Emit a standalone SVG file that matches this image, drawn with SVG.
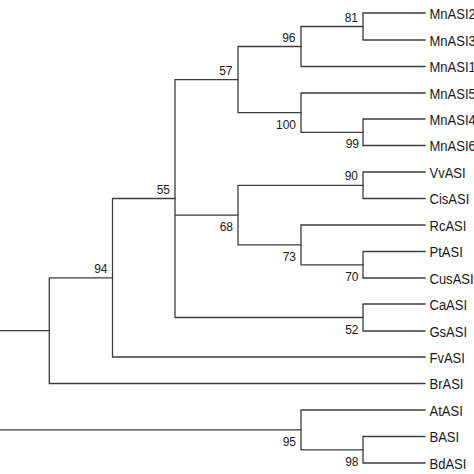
<svg xmlns="http://www.w3.org/2000/svg" width="474" height="474" viewBox="0 0 474 474">
<style>
.e{fill:none;stroke:#3c3c3c;stroke-width:1.3;stroke-linecap:square}
.lf{font-family:"Liberation Sans",Arial,sans-serif;font-size:15.5px;fill:#1a1a1a}
.bs{font-family:"Liberation Sans",Arial,sans-serif;font-size:12px;fill:#1a1a1a;text-anchor:end}
</style>
<rect width="474" height="474" fill="#ffffff"/>
<g id="connectors">
<path class="e" d="M363,13V40M363,13H425M363,40H425"/>
<path class="e" d="M301,26.5V66.5M301,26.5H363M301,66.5H425"/>
<path class="e" d="M363,119V145.5M363,119H425M363,145.5H425"/>
<path class="e" d="M301,93V132.3M301,93H425M301,132.3H363"/>
<path class="e" d="M238,46.5V112.6M238,46.5H301M238,112.6H301"/>
<path class="e" d="M363,172V198.5M363,172H425M363,198.5H425"/>
<path class="e" d="M363,251.5V278M363,251.5H425M363,278H425"/>
<path class="e" d="M301,225V264.8M301,225H425M301,264.8H363"/>
<path class="e" d="M238,185.3V244.9M238,185.3H363M238,244.9H301"/>
<path class="e" d="M363,304V331M363,304H425M363,331H425"/>
<path class="e" d="M175,79.6V317.5M175,79.6H238M175,215.1H238M175,317.5H363"/>
<path class="e" d="M112.5,198.5V357M112.5,198.5H175M112.5,357H425"/>
<path class="e" d="M49.3,277.8V383.5M49.3,277.8H112.5M49.3,383.5H425M0,330.6H49.3"/>
<path class="e" d="M363,436.5V463M363,436.5H425M363,463H425"/>
<path class="e" d="M301,410V449.8M301,410H425M301,449.8H363M0,429.9H301"/>
</g>
<g id="bootstrap">
<text class="bs" x="358" y="21.5">81</text>
<text class="bs" x="295.5" y="41.5">96</text>
<text class="bs" x="232.5" y="74.6">57</text>
<text class="bs" x="296" y="128.6">100</text>
<text class="bs" x="359" y="148">99</text>
<text class="bs" x="170" y="193.5">55</text>
<text class="bs" x="358" y="180">90</text>
<text class="bs" x="233" y="231">68</text>
<text class="bs" x="296" y="261">73</text>
<text class="bs" x="358.5" y="281">70</text>
<text class="bs" x="107.5" y="272.5">94</text>
<text class="bs" x="358.5" y="333.5">52</text>
<text class="bs" x="296" y="446">95</text>
<text class="bs" x="358.5" y="466">98</text>
</g>
<g id="leaf-MnASI2"><text class="lf" transform="translate(429.5,18.5) scale(0.84,1)">MnASI2</text></g>
<g id="leaf-MnASI3"><text class="lf" transform="translate(429.5,45.5) scale(0.84,1)">MnASI3</text></g>
<g id="leaf-MnASI1"><text class="lf" transform="translate(429.5,72) scale(0.84,1)">MnASI1</text></g>
<g id="leaf-MnASI5"><text class="lf" transform="translate(429.5,98.5) scale(0.84,1)">MnASI5</text></g>
<g id="leaf-MnASI4"><text class="lf" transform="translate(429.5,124.5) scale(0.84,1)">MnASI4</text></g>
<g id="leaf-MnASI6"><text class="lf" transform="translate(429.5,151) scale(0.84,1)">MnASI6</text></g>
<g id="leaf-VvASI"><text class="lf" transform="translate(429.5,177.5) scale(0.84,1)">VvASI</text></g>
<g id="leaf-CisASI"><text class="lf" transform="translate(429.5,204) scale(0.84,1)">CisASI</text></g>
<g id="leaf-RcASI"><text class="lf" transform="translate(429.5,230.5) scale(0.84,1)">RcASI</text></g>
<g id="leaf-PtASI"><text class="lf" transform="translate(429.5,257) scale(0.84,1)">PtASI</text></g>
<g id="leaf-CusASI"><text class="lf" transform="translate(429.5,283.5) scale(0.84,1)">CusASI</text></g>
<g id="leaf-CaASI"><text class="lf" transform="translate(429.5,309.5) scale(0.84,1)">CaASI</text></g>
<g id="leaf-GsASI"><text class="lf" transform="translate(429.5,336.5) scale(0.84,1)">GsASI</text></g>
<g id="leaf-FvASI"><text class="lf" transform="translate(429.5,362.5) scale(0.84,1)">FvASI</text></g>
<g id="leaf-BrASI"><text class="lf" transform="translate(429.5,389) scale(0.84,1)">BrASI</text></g>
<g id="leaf-AtASI"><text class="lf" transform="translate(429.5,415.5) scale(0.84,1)">AtASI</text></g>
<g id="leaf-BASI"><text class="lf" transform="translate(429.5,442) scale(0.84,1)">BASI</text></g>
<g id="leaf-BdASI"><text class="lf" transform="translate(429.5,468.5) scale(0.84,1)">BdASI</text></g>
</svg>
